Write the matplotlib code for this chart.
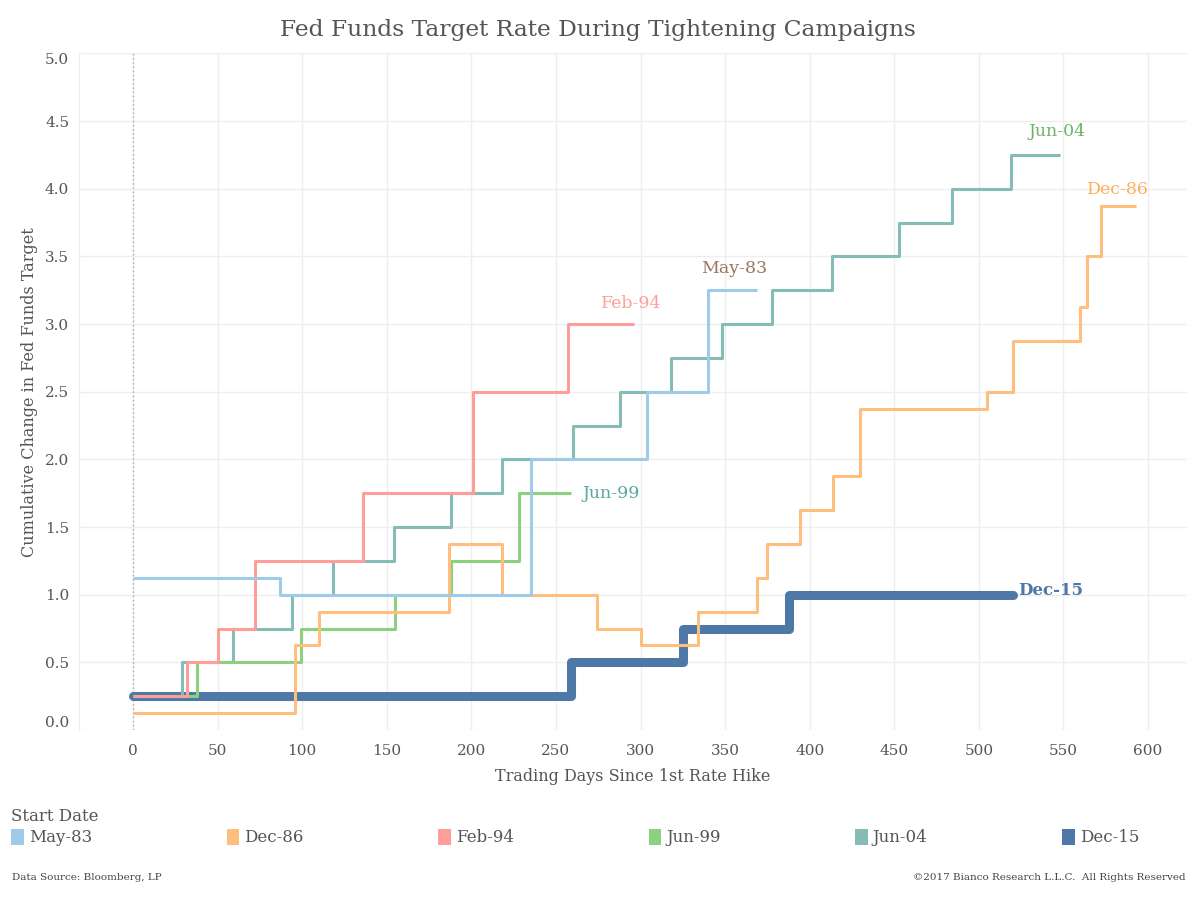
import matplotlib
matplotlib.use("Agg")
import matplotlib.pyplot as plt
from matplotlib.patches import Patch

plt.rcParams['font.family'] = ['DejaVu Serif']

# Step data: trading day of each change and the cumulative change after it
may83_days = [0, 87, 235, 304, 340, 369]
may83_vals = [1.125, 1.0, 2.0, 2.5, 3.25, 3.25]

dec86_days = [0, 96, 110, 187, 218, 274, 300, 334, 369, 375, 394, 414, 430, 505, 520, 560, 564, 572, 593]
dec86_vals = [0.125, 0.625, 0.875, 1.375, 1.0, 0.75, 0.625, 0.875, 1.125, 1.375, 1.625, 1.875, 2.375,
              2.5, 2.875, 3.125, 3.5, 3.875, 3.875]

feb94_days = [0, 32, 50, 72, 136, 201, 257, 296]
feb94_vals = [0.25, 0.5, 0.75, 1.25, 1.75, 2.5, 3.0, 3.0]

jun99_days = [0, 38, 99, 155, 188, 228, 259]
jun99_vals = [0.25, 0.5, 0.75, 1.0, 1.25, 1.75, 1.75]

jun04_days = [0, 29, 59, 94, 118, 154, 188, 218, 260, 288, 318, 348, 378, 413, 453, 484, 519, 548]
jun04_vals = [0.25, 0.5, 0.75, 1.0, 1.25, 1.5, 1.75, 2.0, 2.25, 2.5, 2.75, 3.0, 3.25, 3.5, 3.75,
              4.0, 4.25, 4.25]

dec15_days = [0, 259, 325, 388, 520]
dec15_vals = [0.25, 0.5, 0.75, 1.0, 1.0]

series_names = ['May-83', 'Dec-86', 'Feb-94', 'Jun-99', 'Jun-04', 'Dec-15']
series_colors = ['#A0CBE8', '#FFBE7D', '#FF9D9A', '#8CD17D', '#86BCB6', '#4E79A7']

x_ticks = [0, 50, 100, 150, 200, 250, 300, 350, 400, 450, 500, 550, 600]
y_ticks = [0.0, 0.5, 1.0, 1.5, 2.0, 2.5, 3.0, 3.5, 4.0, 4.5, 5.0]

text_col = '#555555'
grid_col = '#EEEEEE'

fig = plt.figure(figsize=(12, 9), dpi=100)
ax = fig.add_axes([0.0658, 0.1889, 0.9233, 0.7517])

data = {
    'May-83': (may83_days, may83_vals),
    'Dec-86': (dec86_days, dec86_vals),
    'Feb-94': (feb94_days, feb94_vals),
    'Jun-99': (jun99_days, jun99_vals),
    'Jun-04': (jun04_days, jun04_vals),
    'Dec-15': (dec15_days, dec15_vals),
}
colors = dict(zip(series_names, series_colors))

# Draw order: thick Dec-15 at the bottom
draw_order = ['Dec-15', 'Jun-04', 'Jun-99', 'Dec-86', 'Feb-94', 'May-83']
for i, name in enumerate(draw_order):
    d, v = data[name]
    if name == 'Dec-15':
        ax.plot(d, v, drawstyle='steps-post', color=colors[name], lw=6.5,
                solid_capstyle='round', solid_joinstyle='round', zorder=3)
    else:
        ax.plot(d, v, drawstyle='steps-post', color=colors[name], lw=2.2,
                solid_capstyle='butt', zorder=4 + i)

# End labels
label_specs = [
    ('Jun-04', '#6DB36A', (-2, 17), 'center', 'center', 'normal', 12.5),
    ('Dec-86', '#FFAE5C', (-13, 12), 'center', 'center', 'normal', 12.5),
    ('May-83', '#9C755F', (-17, 16), 'center', 'center', 'normal', 12.5),
    ('Feb-94', '#FF9D9A', (-2, 14.5), 'center', 'center', 'normal', 12.5),
    ('Jun-99', '#59A89F', (8, 0), 'left', 'center', 'normal', 12.5),
    ('Dec-15', '#4E79A7', (4, 3), 'left', 'center', 'bold', 12),
]
for name, col, off, ha, va, weight, fs in label_specs:
    d, v = data[name]
    ax.annotate(name, xy=(d[-1], v[-1]), xytext=off, textcoords='offset points',
                ha=ha, va=va, color=col, fontsize=fs, fontweight=weight, zorder=20)

ax.axvline(0, color='#AAAAAA', lw=1, ls=(0, (1, 2)), zorder=2)

ax.set_xlim(-32, 623)
ax.set_ylim(0, 5)
ax.set_xticks(x_ticks)
ax.set_yticks(y_ticks)
ax.set_yticklabels([f'{t:.1f}' for t in y_ticks])
ylabels = ax.get_yticklabels()
ylabels[0].set_verticalalignment('bottom')
ylabels[-1].set_verticalalignment('top')
ax.tick_params(axis='both', length=0, labelsize=11, labelcolor=text_col)
ax.tick_params(axis='x', pad=10)
ax.tick_params(axis='y', pad=7)
ax.grid(True, color=grid_col, lw=1, zorder=0)
ax.set_axisbelow(True)
for s in ax.spines.values():
    s.set_visible(False)
ax.spines['left'].set_visible(True)
ax.spines['left'].set_color(grid_col)

ax.set_xlabel('Trading Days Since 1st Rate Hike', fontsize=11.5, color=text_col, labelpad=7)
ax.set_ylabel('Cumulative Change in Fed Funds Target', fontsize=11.5, color=text_col, labelpad=5)

fig.text(0.4985, 0.967, 'Fed Funds Target Rate During Tightening Campaigns',
         ha='center', va='center', fontsize=16.8, color=text_col)

handles = [Patch(facecolor=colors[n], edgecolor='none', label=n) for n in series_names]
leg = fig.legend(handles=handles, loc='upper left', bbox_to_anchor=(0.0095, 0.102),
                 ncol=6, frameon=False, title='Start Date', alignment='left',
                 fontsize=12, title_fontsize=12, handlelength=0.75, handleheight=1.1,
                 handletextpad=0.3, columnspacing=8.08, borderaxespad=0, borderpad=0,
                 labelspacing=0.2)
for t in leg.get_texts():
    t.set_color(text_col)
leg.get_title().set_color(text_col)

fig.text(0.01, 0.025, 'Data Source: Bloomberg, LP', ha='left', va='center',
         fontsize=7.5, color='#444444')
fig.text(0.988, 0.025, '\u00a92017 Bianco Research L.L.C.  All Rights Reserved', ha='right',
         va='center', fontsize=7.5, color='#444444')

fig.savefig('out.png', dpi=100)
